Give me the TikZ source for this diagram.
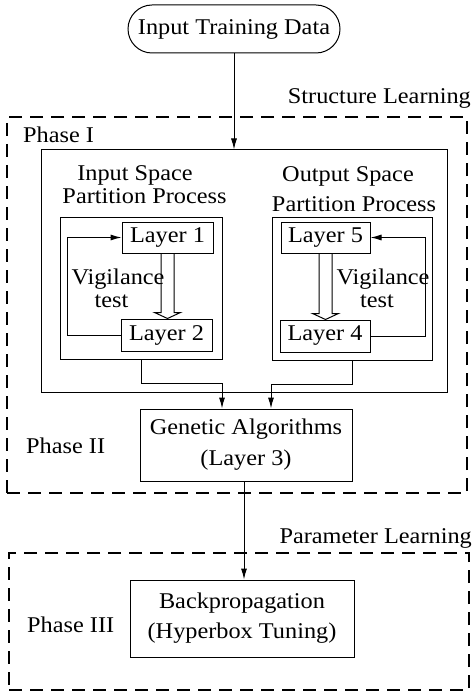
\documentclass[tikz,border=0pt]{standalone}
\usepackage{fontspec}
\setmainfont{Liberation Serif}[FakeStretch=1.08]
\usetikzlibrary{arrows.meta,calc}
\begin{document}
\begin{tikzpicture}[x=1pt,y=-1pt,
  every node/.style={font=\fontsize{22.5}{30}\selectfont},
  box/.style={draw, line width=1pt, inner sep=0pt},
  dbox/.style={draw, line width=1.3pt, dash pattern=on 13pt off 8pt, inner sep=0pt},
  lbl/.style={inner sep=0pt},
  arr/.style={-{Latex[length=11pt,width=6pt]}, line width=1pt},
  hollow/.style={line width=1pt, line join=miter}
]
\useasboundingbox (0,0) rectangle (474,695);
% containers
\node[dbox, minimum width=460, minimum height=376] (s1) at (237,305) {};
\node[box, minimum width=406, minimum height=242] (p1) at (244,271) {};
\node[box, minimum width=162, minimum height=142] (inb) at (141,288) {};
\node[box, minimum width=160, minimum height=143] (outb) at (352,288.5) {};
\node[dbox, minimum width=460, minimum height=137] (s2) at (239,621.5) {};
% main nodes
\node[box, rounded corners=24, minimum width=212, minimum height=48] (in) at (234,29) {Input Training Data};
\node[box, minimum width=91, minimum height=31] (l1) at (167.5,237.5) {Layer 1};
\node[box, minimum width=91, minimum height=32] (l2) at (166.5,335) {Layer 2};
\node[box, minimum width=89, minimum height=31] (l5) at (325.5,237.5) {Layer 5};
\node[box, minimum width=90, minimum height=32] (l4) at (325,336) {Layer 4};
\node[box, minimum width=212, minimum height=72, align=center, font=\fontsize{22.5}{31}\selectfont] (ga) at (246,445) {Genetic Algorithms\\(Layer 3)};
\node[box, minimum width=224, minimum height=77, align=center, font=\fontsize{22.5}{30}\selectfont] (bp) at (242,618.5) {Backpropagation\\(Hyperbox Tuning)};
% labels
\node[lbl, anchor=base east] (tsl) at (471,104) {Structure Learning};
\node[lbl, anchor=base west] (tp1) at (23,143) {Phase I};
\node[lbl, anchor=base] (tis) at (135,180) {Input Space};
\node[lbl, anchor=base] (tipp) at (144.5,203) {Partition Process};
\node[lbl, anchor=base] (tos) at (348,182) {Output Space};
\node[lbl, anchor=base] (topp) at (354,211) {Partition Process};
\node[lbl, anchor=base] (tv1) at (118,284) {Vigilance};
\node[lbl, anchor=base] (tt1) at (111.5,307) {test};
\node[lbl, anchor=base] (tv2) at (383,284) {Vigilance};
\node[lbl, anchor=base] (tt2) at (377,307) {test};
\node[lbl, anchor=base west] (tp2) at (26,453) {Phase II};
\node[lbl, anchor=base east] (tpl) at (472,543) {Parameter Learning};
\node[lbl, anchor=base west] (tp3) at (27,632) {Phase III};
% connectors
\draw[arr] (in.south) -- (in.south |- p1.north);
\draw[arr] (l2.west) -- ++(-53,0) |- (l1.west);
\draw[arr] (l4.east) -- ++(55,0) |- (l5.east);
\draw[arr] (inb.south) -- ++(0,24) -| ($(ga.north)+(-24,0)$);
\draw[arr] (outb.south) -- ++(0,24) -| ($(ga.north)+(25,0)$);
\draw[arr] ($(ga.south)+(-2,0)$) -- ($(ga.south |- bp.north)+(-2,0)$);
% hollow arrows
\draw[hollow] let \p1=(l1.south), \p2=(l2.north) in
  (\x1-6.5pt,\y1) -- (\x1-6.5pt,\y2+6pt) -- (\x1-13pt,\y2+6pt) -- (\x1,\y2)
  -- (\x1+13pt,\y2+6pt) -- (\x1+6.5pt,\y2+6pt) -- (\x1+6.5pt,\y1);
\draw[hollow] let \p1=(l5.south), \p2=(l4.north) in
  (\x1-6.5pt,\y1) -- (\x1-6.5pt,\y2+6pt) -- (\x1-13pt,\y2+6pt) -- (\x1,\y2)
  -- (\x1+13pt,\y2+6pt) -- (\x1+6.5pt,\y2+6pt) -- (\x1+6.5pt,\y1);
\end{tikzpicture}
\end{document}
